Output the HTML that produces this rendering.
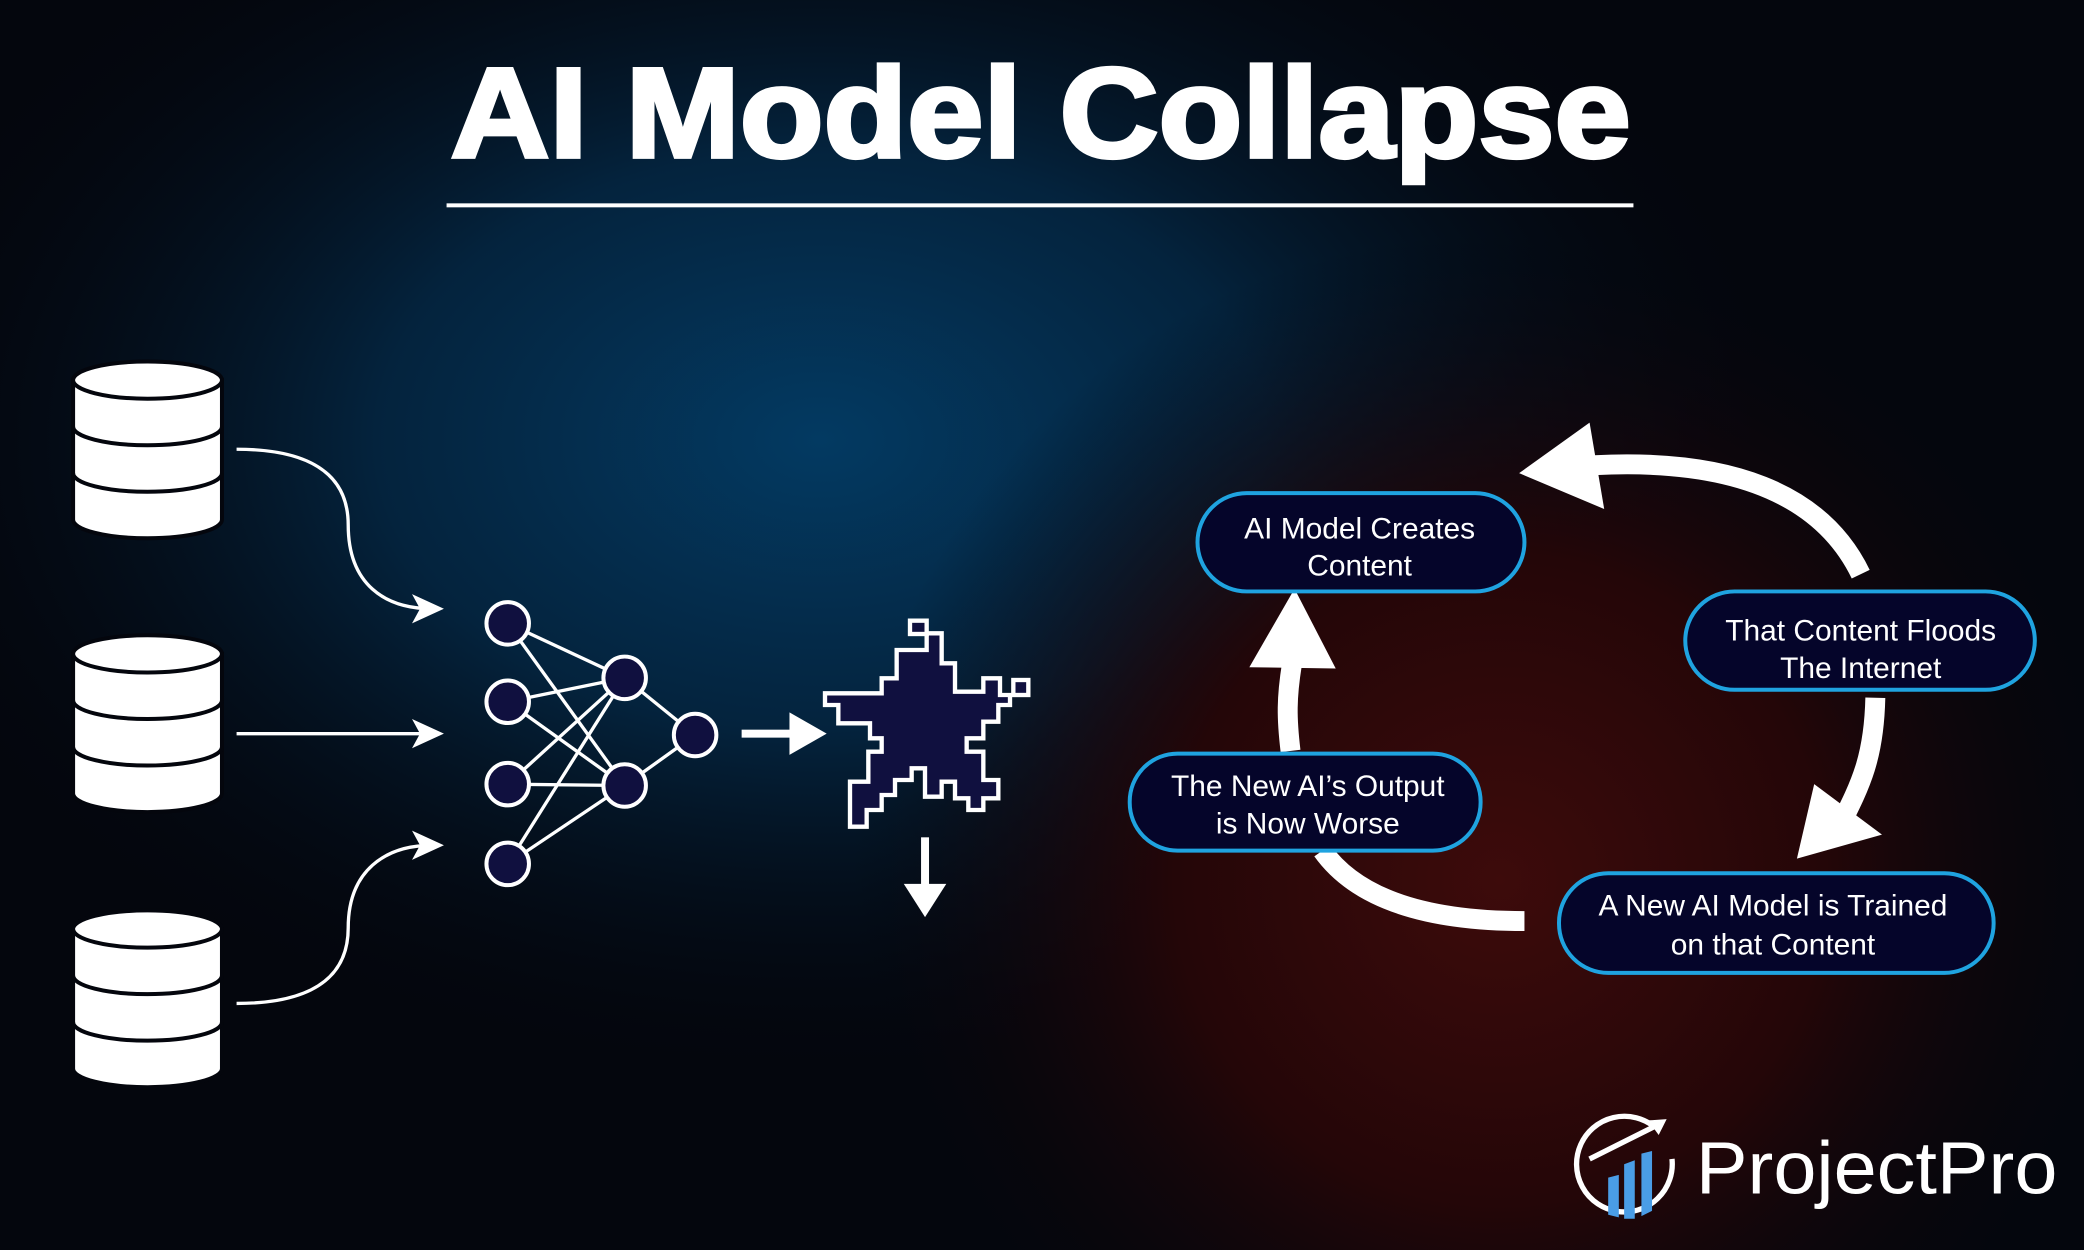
<!DOCTYPE html>
<html><head><meta charset="utf-8"><style>
html,body{margin:0;padding:0;background:#04060d;}
svg{display:block}
</style></head><body>
<svg width="2084" height="1250" viewBox="0 0 2084 1250" xmlns="http://www.w3.org/2000/svg">
<defs>
<radialGradient id="bl" cx="820" cy="440" r="760" gradientUnits="userSpaceOnUse" gradientTransform="translate(820 440) scale(1.3 0.85) translate(-820 -440)">
<stop offset="0" stop-color="#033a62"/><stop offset="0.45" stop-color="#04233d"/><stop offset="1" stop-color="#04060d" stop-opacity="0"/>
</radialGradient>
<radialGradient id="rd" cx="1500" cy="880" r="650" gradientUnits="userSpaceOnUse">
<stop offset="0" stop-color="#3d0b0b"/><stop offset="0.5" stop-color="#240608"/><stop offset="1" stop-color="#04060d" stop-opacity="0"/>
</radialGradient>
</defs>
<rect width="2084" height="1250" fill="#04060d"/>
<rect width="2084" height="1250" fill="url(#bl)"/>
<rect width="2084" height="1250" fill="url(#rd)"/>
<g transform="scale(1.32908)">
<text x="783" y="118" text-anchor="middle" font-family="Liberation Sans, sans-serif" font-weight="bold" font-size="96" fill="#fff" stroke="#fff" stroke-width="3" textLength="888" lengthAdjust="spacingAndGlyphs">AI Model Collapse</text>
<rect x="336" y="153" width="893" height="3" fill="#fff"/>

<g id="db" stroke="#04060d" stroke-width="3">
<path d="M55,286 V391 A56,14 0 0 0 167,391 V286 Z" fill="#fff"/>
<ellipse cx="111" cy="286" rx="56" ry="14" fill="#fff"/>
<path d="M55,321 A56,14 0 0 0 167,321 M55,356 A56,14 0 0 0 167,356" fill="none"/>
</g>
<use href="#db" y="206"/>
<use href="#db" y="413"/>

<g fill="none" stroke="#fff" stroke-width="2.5">
<path d="M178,338 C250,338 262,370 262,395 C262,440 290,458 325,458"/>
<path d="M178,552 H325"/>
<path d="M178,755 C250,755 262,723 262,698 C262,655 290,636 325,636"/>
</g>
<g fill="#fff">
<path d="M334,458 L310,447 L316,458 L310,469 Z"/>
<path d="M334,552 L310,541 L316,552 L310,563 Z"/>
<path d="M334,636 L310,625 L316,636 L310,647 Z"/>
</g>

<g stroke="#fff" stroke-width="2.5">
<line x1="382" y1="469" x2="470" y2="510"/><line x1="382" y1="469" x2="470" y2="591"/>
<line x1="382" y1="528" x2="470" y2="510"/><line x1="382" y1="528" x2="470" y2="591"/>
<line x1="382" y1="590" x2="470" y2="510"/><line x1="382" y1="590" x2="470" y2="591"/>
<line x1="382" y1="650" x2="470" y2="510"/><line x1="382" y1="650" x2="470" y2="591"/>
<line x1="470" y1="510" x2="523" y2="553"/><line x1="470" y1="591" x2="523" y2="553"/>
</g>
<g fill="#10103f" stroke="#fff" stroke-width="3">
<circle cx="382" cy="469" r="16"/><circle cx="382" cy="528" r="16"/><circle cx="382" cy="590" r="16"/><circle cx="382" cy="650" r="16"/>
<circle cx="470" cy="510" r="16"/><circle cx="470" cy="591" r="16"/><circle cx="523" cy="553" r="16"/>
</g>
<rect x="558" y="549" width="40" height="6" fill="#fff"/>
<path d="M622,552 L594,536 L594,568 Z" fill="#fff"/>
<rect x="693" y="630" width="6" height="40" fill="#fff"/>
<path d="M696,690 L680,665 L712,665 Z" fill="#fff"/>
</g>

<g transform="translate(780 580) scale(0.33333)" fill="#10103f" stroke="#fff" stroke-width="13">
<path d="M440,160 L485,160 L485,250 L525,250 L525,335 L610,335 L610,295 L660,295 L660,345 L690,345 L690,375 L655,375 L655,425 L610,425 L610,475 L560,475 L560,515 L610,515 L610,600 L655,600 L655,655 L610,655 L610,690 L565,690 L565,655 L525,655 L525,605 L485,605 L485,650 L435,650 L435,565 L395,565 L395,600 L345,600 L345,645 L305,645 L305,690 L260,690 L260,740 L210,740 L210,605 L265,605 L265,515 L305,515 L305,475 L270,475 L270,430 L175,430 L175,375 L135,375 L135,340 L305,340 L305,295 L350,295 L350,210 L440,210 Z"/>
<rect x="390" y="122" width="50" height="40"/>
<rect x="700" y="300" width="45" height="45"/>
</g>

<g transform="scale(1.32908)">
<g fill="none" stroke="#fff" stroke-width="15">
<path d="M1400,432 C1370,370 1300,345 1200,350"/>
<path d="M1411,525 C1410,570 1400,590 1385,620"/>
<path d="M1147,693 C1070,693 1020,675 995,640"/>
<path d="M971,565 C968,540 968,525 972,500"/>
</g>
<g fill="#fff">
<path d="M1143,356 L1196,318 L1207,383 Z"/>
<path d="M1352,646 L1365,590 L1416,628 Z"/>
<path d="M974,443 L940,502 L1005,503 Z"/>
</g>
<g fill="#05052a" stroke="#1fa3e0" stroke-width="3">
<rect x="901" y="371" width="246" height="74" rx="37"/>
<rect x="1268" y="445" width="263" height="74" rx="37"/>
<rect x="1173" y="657" width="327" height="75" rx="37"/>
<rect x="850" y="567" width="264" height="73" rx="36"/>
</g>
<g fill="#fff" font-family="Liberation Sans, sans-serif" font-size="22.5" text-anchor="middle">
<text x="1023" y="405">AI Model Creates</text><text x="1023" y="433">Content</text>
<text x="1400" y="482">That Content Floods</text><text x="1400" y="510">The Internet</text>
<text x="1334" y="689">A New AI Model is Trained</text><text x="1334" y="718">on that Content</text>
<text x="984" y="599">The New AI’s Output</text><text x="984" y="627">is Now Worse</text>
</g>

<g>
<path d="M1245,848 A36,36 0 1 0 1258,872" fill="none" stroke="#fff" stroke-width="4"/>
<path d="M1210,886 V914 L1218,916 V884 Z M1222,876 V917 L1230,917 V873 Z M1235,868 V915 L1243,911 V866 Z" fill="#4a9de6"/>
<path d="M1196,872 L1248,846" stroke="#fff" stroke-width="4"/>
<path d="M1254,842 L1240,843 L1248,854 Z" fill="#fff"/>
<text x="1276" y="898" font-family="Liberation Sans, sans-serif" font-size="56" fill="#fff" textLength="272" lengthAdjust="spacingAndGlyphs">ProjectPro</text>
</g>
</g>
</svg>
</body></html>
